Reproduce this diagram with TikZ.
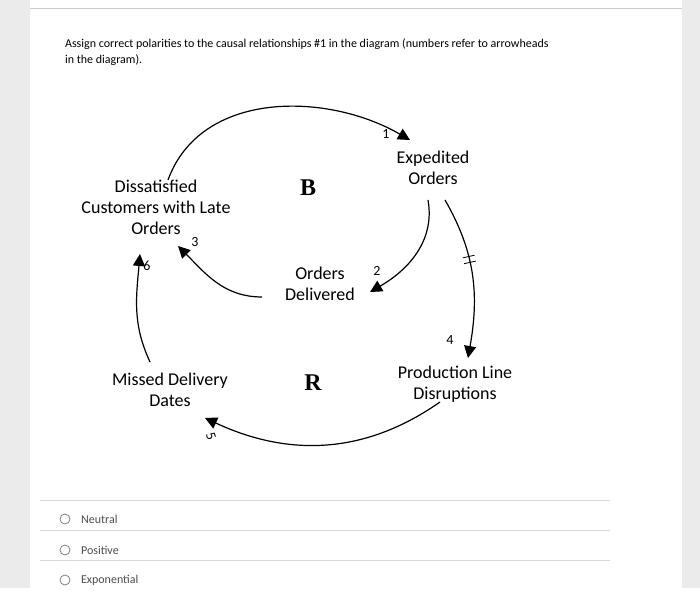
\documentclass[tikz,border=0pt]{standalone}
\usepackage{fontspec}
\setmainfont{Carlito}
\newfontfamily\loopfont{Liberation Serif}
\usetikzlibrary{arrows.meta,decorations.markings}
\tikzset{
  var/.style={align=center,font=\fontsize{9}{10.5}\selectfont},
  loopname/.style={font=\loopfont\bfseries\fontsize{12}{12}\selectfont},
  link/.style={semithick,-{Triangle[width=6pt,length=6pt]}},
  num/.style={font=\fontsize{7}{7}\selectfont},
  opt/.style={font=\fontsize{6}{6}\selectfont\color{black!70},anchor=west},
  delay/.style={postaction={decorate},decoration={markings,mark=at position #1 with {\draw[thin,-] (-2pt,-3pt)--(-2pt,3pt) (1pt,-3pt)--(1pt,3pt);}}}
}
\begin{document}
\begin{tikzpicture}[x=0.5pt,y=-0.5pt]
\fill[black!8] (0,0) rectangle (700,588);
\fill[white] (30,0) rectangle (682,588);
\draw[black!20] (30,8)--(682,8);
\node[anchor=north west,align=left,font=\fontsize{6}{8}\selectfont] (q) at (58,32)
  {Assign correct polarities to the causal relationships \#1 in the diagram (numbers refer to arrowheads\\in the diagram).};

% variables
\node[var] (dis) at (156,207) {Dissatisfied\\Customers with Late\\Orders};
\node[var] (exp) at (433,168) {Expedited\\Orders};
\node[var] (del) at (320,284) {Orders\\Delivered};
\node[var] (mis) at (170,390) {Missed Delivery\\Dates};
\node[var] (pro) at (455,384) {Production Line\\Disruptions};
\node[loopname] (b) at (308,188) {B};
\node[loopname] (r) at (313,383) {R};

% end points
\coordinate (s1) at (168,180); \coordinate (e1) at (410,140);
\coordinate (s2) at (428,200); \coordinate (e2) at (370,292);
\coordinate (s3) at (262,297); \coordinate (e3) at (178,246);
\coordinate (s4) at (445,200); \coordinate (e4) at (468,358);
\coordinate (s5) at (440,402); \coordinate (e5) at (205,418);
\coordinate (s6) at (150,362); \coordinate (e6) at (140,254);

% links
\draw[link] (s1) to[out=70,in=150] (e1);
\draw[link] (s2) to[out=-80,in=30] (e2);
\draw[link] (s3) to[out=180,in=-45] (e3);
\draw[link,delay=0.4] (s4) to[out=-60,in=80] (e4);
\draw[link] (s5) to[out=-145,in=-25] (e5);
\draw[link] (s6) to[out=115,in=-95] (e6);

\node[num] (n1) at (386,134) {1};
\node[num] (n2) at (377,271) {2};
\node[num] (n3) at (195,242) {3};
\node[num] (n4) at (450,340) {4};
\node[num,rotate=-70] (n5) at (211,436) {5};
\node[num] (n6) at (147,266) {6};

% answers
\foreach \y in {500,530,560} \draw[black!15] (40,\y)--(610,\y);
\foreach \y/\t [count=\i] in {519/Neutral,550/Positive,580/Exponential}{
  \draw[black!50] (65,\y) circle (5);
  \node[opt] (o\i) at (74,\y) {\t};
}
\end{tikzpicture}
\end{document}
